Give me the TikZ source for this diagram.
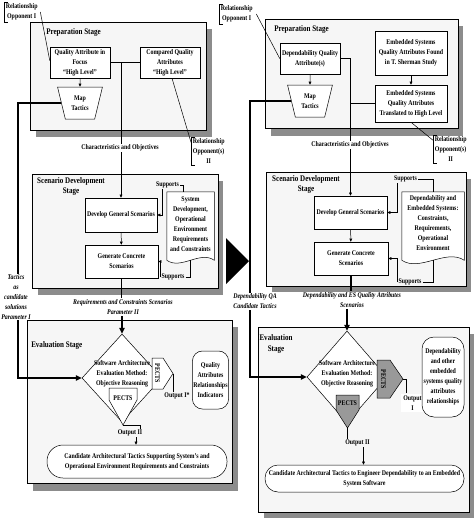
\documentclass[tikz,border=0pt]{standalone}
\usepackage{fontspec}
\setmainfont[FakeStretch=0.82]{Liberation Serif}
\usetikzlibrary{positioning,shapes.geometric,arrows.meta}

\begin{document}
\begin{tikzpicture}[x=1pt,y=-1pt,line width=0.5pt,
  >={Triangle[length=3.2pt,width=2.8pt]},
  txt/.style={font=\fontsize{7.2}{10}\selectfont\bfseries,align=center,inner sep=1pt},
  itl/.style={font=\fontsize{7.2}{10}\selectfont\bfseries\itshape,align=center,inner sep=1pt},
  ttl/.style={font=\fontsize{8.6}{10.5}\selectfont\bfseries,align=center,inner sep=0pt},
  box/.style={txt,draw,fill=white},
  mapbox/.style={box,trapezium,trapezium stretches=true,shape border rotate=180,trapezium angle=72.6,minimum width=45pt,minimum height=32pt,inner sep=0pt},
  pill/.style={box,rounded corners=#1},
  dia/.style={diamond,draw,fill=white,inner sep=0pt,minimum width=80pt},
  note/.style={txt,inner sep=1.5pt},
  stage/.style={draw,fill=gray!7},
  shade/.style={fill=black!45},
  thickline/.style={line width=1.6pt},
  thickarrow/.style={line width=1.6pt,-{Triangle[length=6pt,width=5.5pt]}}]
  \useasboundingbox (0,0) rectangle (474,520);

  \begin{scope}
    \fill[shade] (36,29) rectangle (212,137);
    \draw[stage] (30,22) rectangle (206,130);
    \node[ttl,anchor=west] (prepL) at (46,32) {Preparation Stage};
    \node[box,minimum width=60pt,minimum height=31pt] (qaL) at (80,62.5) {Quality Attribute in\\Focus\\``High Level''};
    \node[box,minimum width=60pt,minimum height=31pt] (cqL) at (170,62.5) {Compared Quality\\Attributes\\``High Level''};
    \node[mapbox] (mapL) at (80,103) {Map\\Tactics};
    \draw[->] (qaL) -- (mapL);

    \fill[shade] (38,181) rectangle (223,295);
    \draw[stage] (32,174) rectangle (218,288);
    \node[ttl] (scnL) at (71,186.5) {Scenario Development\\Stage};
    \node[box,minimum width=72pt,minimum height=34pt] (devL) at (121,215) {Develop General Scenarios};
    \node[box,minimum width=73pt,minimum height=33pt] (genL) at (121.5,261.5) {Generate Concrete\\Scenarios};
    \node[minimum width=47pt,minimum height=68pt,inner sep=0pt] (docL) at (190.5,226) {};
    \draw[fill=white] (docL.north west) -- (docL.north east) -- (docL.south east) .. controls +(-14,-10) and +(14,10) .. (docL.south west) -- cycle;
    \node[txt] (docLt) at (190.5,224) {System\\Development,\\Operational\\Environment\\Requirements\\and Constraints};
    \node[txt] (supTL) at (167.5,185) {Supports};
    \node[txt] (supBL) at (173,277) {Supports};
    \draw[->] (devL) -- (genL);
    \draw (supTL.east) -| ([xshift=-7.5pt]docL.north);
    \draw[->] ([xshift=-5.5pt]supTL.south) |- (devL.east);
    \draw (supBL.east) -| (docL.south);
    \draw[->] (supBL.west) |- (genL.east);

    \fill[shade] (33,327) rectangle (238,491);
    \draw[stage] (27,320) rectangle (232,483);
    \node[ttl,anchor=west] (evlL) at (31,345) {Evaluation Stage};
    \node[dia,minimum height=88pt] (diaL) at (122,378) {};
    \node[txt] (diaLt) at (122,374) {Software Architecture\\Evaluation Method:\\Objective Reasoning};
    \draw[fill=white] (152,358) -- (163,358) -- (173,373.5) -- (163,389) -- (152,389) -- cycle;
    \node[txt,rotate=-90,inner sep=0pt] (pecRLt) at (157.5,373.5) {PECTS};
    \coordinate (pecRL) at (173,373.5);
    \draw[fill=white] (109,388) -- (137,388) -- (137,400) -- (123,425) -- (109,400) -- cycle;
    \node[txt] (pecBLt) at (123,398) {PECTS};
    \coordinate (pecBL) at (123,425);
    \node[txt] (outIL) at (177,396) {Output I*};
    \node[txt] (outIIL) at (130,433) {Output II};
    \node[pill=10pt,minimum width=35pt,minimum height=58pt] (qarL) at (210.5,380) {Quality\\Attributes\\Relationships\\Indicators};
    \node[pill=16pt,minimum width=180pt,minimum height=33pt] (candL) at (137,461.5) {Candidate Architectural Tactics Supporting System's and\\Operational Environment Requirements and Constraints};
    \draw (pecRL) -- (pecRL |- outIL.north);
    \draw (pecBL) -| ([xshift=-3pt]outIIL.north east);
    \draw[->] ([xshift=6pt]outIIL.south) -- ([xshift=6pt]outIIL.south |- candL.north);

    \draw (qaL) -- (cqL);
    \draw[->] (qaL.east -| devL.north) -- (devL.north);
    \node[txt,fill=white] (chrL) at (120,148) {Characteristics and Objectives};

    \node[note,anchor=north west] (ro1L) at (4,2) {Relationship\\Opponent I};
    \draw ([xshift=4pt]ro1L.north west) -| (ro1L.south west) -- ++(4,0);
    \draw ([xshift=1pt]ro1L.east) -- ([yshift=2pt]qaL.west);
    \node[note,anchor=north west] (ro2L) at (191,137) {Relationship\\Opponent(s)\\II};
    \draw ([xshift=4pt]ro2L.north west) -| (ro2L.south west) -- ++(4,0);
    \draw ([xshift=2pt]cqL.south) -- ([yshift=9pt]ro2L.west);

    \node[itl] (parL) at (123,307) {Requirements and Constraints Scenarios\\Parameter II};
    \draw[thickline] (genL.south) -- (genL.south |- parL.north);
    \draw[thickarrow] (parL.south -| diaL.north) -- (diaL.north);
    \draw[thickarrow] (mapL.west) -- ++(-43,0) |- (diaL.west);
    \node[itl,fill=white,inner sep=0.5pt] (tacL) at (16,297) {Tactics\\as\\candidate\\solutions\\Parameter I};
  \end{scope}

  \fill (226,238) -- (249,261) -- (226,284) -- cycle;

  \begin{scope}
    \fill[shade] (271,26) rectangle (463,136);
    \draw[stage] (265,19) rectangle (458,128);
    \node[ttl,anchor=west] (prepR) at (274,29) {Preparation Stage};
    \node[box,minimum width=60pt,minimum height=31pt] (depR) at (310,58.5) {Dependability Quality\\Attribute(s)};
    \node[box,minimum width=72pt,minimum height=44pt] (esfR) at (411,53) {Embedded Systems\\Quality Attributes Found\\in T. Sherman Study};
    \node[box,minimum width=72pt,minimum height=37pt] (estR) at (411,103.5) {Embedded Systems\\Quality Attributes\\Translated to High Level};
    \node[mapbox] (mapR) at (310,101) {Map\\Tactics};
    \draw[->] (depR) -- (mapR);
    \draw[->] (esfR) -- (estR);

    \fill[shade] (272,179) rectangle (471,292);
    \draw[stage] (266,172) rectangle (466,286);
    \node[ttl] (scnR) at (306,184.5) {Scenario Development\\Stage};
    \node[box,minimum width=73pt,minimum height=33pt] (devR) at (350.5,212.5) {Develop General Scenarios};
    \node[box,minimum width=74pt,minimum height=33pt] (genR) at (351,258.5) {Generate Concrete\\Scenarios};
    \node[minimum width=62pt,minimum height=68pt,inner sep=0pt] (docR) at (433,226) {};
    \draw[fill=white] (docR.north west) -- (docR.north east) -- (docR.south east) .. controls +(-18,-12) and +(18,12) .. (docR.south west) -- cycle;
    \node[txt] (docRt) at (433,223.5) {Dependability and\\Embedded Systems:\\Constraints,\\Requirements,\\Operational\\Environment};
    \node[txt] (supTR) at (405.5,179) {Supports};
    \node[txt] (supBR) at (410,282) {Supports};
    \draw[->] (devR) -- (genR);
    \draw (supTR.east) -| (docR.north);
    \draw[->] ([xshift=-8pt]supTR.south) |- (devR.east);
    \draw (supBR.east) -| (docR.south);
    \draw[->] (supBR.west) |- (genR.east);

    \fill[shade] (264,334) rectangle (474,518);
    \draw[stage] (258,327) rectangle (469,512);
    \node[ttl] (evlR) at (276,344) {Evaluation\\Stage};
    \node[dia,minimum height=92pt] (diaR) at (347,377) {};
    \node[txt] (diaRt) at (347,374) {Software Architecture\\Evaluation Method:\\Objective Reasoning};
    \draw[fill=black!40] (377,360) -- (390,360) -- (403,379) -- (390,398) -- (377,398) -- cycle;
    \node[txt,rotate=-90,inner sep=0pt] (pecRRt) at (383.5,379) {PECTS};
    \coordinate (pecRR) at (403,379);
    \draw[fill=black!40] (336,395) -- (359,395) -- (359,410) -- (347.5,428) -- (336,410) -- cycle;
    \node[txt] (pecBRt) at (347.5,403) {PECTS};
    \coordinate (pecBR) at (347.5,428);
    \node[txt,fill=white,inner sep=2pt] (outIR) at (412.5,403) {Output\\I};
    \node[txt] (outIIR) at (357.5,443) {Output II};
    \node[pill=12pt,minimum width=42pt,minimum height=80pt] (qarR) at (443,377) {Dependability\\and other\\embedded\\systems quality\\attributes\\relationships};
    \node[pill=13pt,minimum width=199pt,minimum height=27pt] (candR) at (364.5,478.5) {Candidate Architectural Tactics to Engineer Dependability to an Embedded\\System Software};
    \draw (pecRR) -| ([xshift=-6pt]outIR.north);
    \draw (pecBR) -- (pecBR |- outIIR.north);
    \draw[->] ([xshift=6pt]outIIR.south) -- ([xshift=6pt]outIIR.south |- candR.north);

    \draw[->] (depR.east) -| (devR.north);
    \draw (estR.west) -- (estR.west -| devR.north);
    \node[txt,fill=white] (chrR) at (350,145) {Characteristics and Objectives};

    \node[note,anchor=north west] (ro1R) at (219,4) {Relationship\\Opponent I};
    \draw ([xshift=4pt]ro1R.north west) -| (ro1R.south west) -- ++(4,0);
    \draw ([xshift=2pt]ro1R.east) -- (depR.west);
    \node[note,anchor=north west] (ro2R) at (433,135) {Relationship\\Opponent(s)\\II};
    \draw ([xshift=4pt]ro2R.north west) -| (ro2R.south west) -- ++(4,0);
    \draw (estR.south) -- ([yshift=9pt]ro2R.west);

    \node[itl] (parR) at (352,300) {Dependability and ES Quality Attributes\\Scenarios};
    \draw[thickline] (genR.south) -- (genR.south |- parR.north);
    \draw[thickarrow] (parR.south -| diaR.north) -- (diaR.north);
    \draw[thickarrow] (mapR.west) -- ++(-41,0) |- (diaR.west);
    \node[itl,fill=white,inner sep=0.5pt] (dqaR) at (255,301.5) {Dependability QA\\Candidate Tactics};
  \end{scope}
\end{tikzpicture}
\end{document}
